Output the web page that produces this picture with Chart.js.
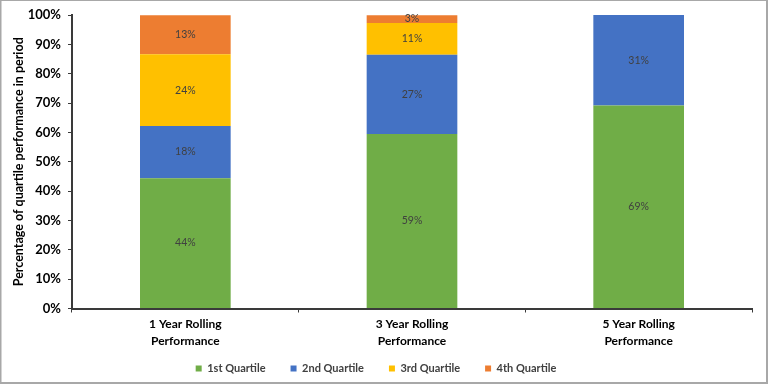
<!DOCTYPE html>
<html>
<head>
<meta charset="utf-8">
<script src="https://cdn.jsdelivr.net/npm/chart.js@4/dist/chart.umd.min.js"></script>
<style>
  html, body { margin: 0; padding: 0; background: #fff; }
  canvas { display: block; }
</style>
</head>
<body>
<canvas id="c" width="768" height="384"></canvas>
<script>
const categories = [
  ['1 Year Rolling', 'Performance'],
  ['3 Year Rolling', 'Performance'],
  ['5 Year Rolling', 'Performance']
];
const seriesNames = ['1st Quartile', '2nd Quartile', '3rd Quartile', '4th Quartile'];
const q1 = [44.4, 59.45, 69.2];
const q2 = [17.8, 27.0, 30.8];
const q3 = [24.4, 10.8, null];
const q4 = [13.3, 2.7, null];
const yTicks = [0, 10, 20, 30, 40, 50, 60, 70, 80, 90, 100];
const colors = ['#70AD47', '#4472C4', '#FFC000', '#ED7D31'];

const FONT = 'Lato, "Liberation Sans", sans-serif';

const bgFrame = {
  id: 'bgFrame',
  beforeDraw(chart) {
    const ctx = chart.ctx;
    ctx.save();
    ctx.fillStyle = '#fff';
    ctx.fillRect(0, 0, chart.width, chart.height);
    ctx.restore();
  },
  afterLayout(chart) {
    // let the two-line category labels extend below the axis box without being clipped
    const x = chart.scales.x;
    if (x) x.bottom += 24;
  },
  afterDraw(chart) {
    const ctx = chart.ctx;
    const w = chart.width, h = chart.height;
    ctx.save();
    ctx.fillStyle = '#a8a8a8';
    ctx.fillRect(0, 0, w, 1);
    ctx.fillRect(0, 0, 1.5, h);
    ctx.fillRect(w - 2, 0, 2, h);
    ctx.fillRect(0, h - 2, w, 2);
    ctx.restore();
  }
};

const valueLabels = {
  id: 'valueLabels',
  afterDatasetsDraw(chart) {
    const ctx = chart.ctx;
    ctx.save();
    ctx.font = '10.5px ' + FONT;
    ctx.fillStyle = '#404040';
    ctx.textAlign = 'center';
    ctx.textBaseline = 'middle';
    chart.data.datasets.forEach((ds, di) => {
      const meta = chart.getDatasetMeta(di);
      meta.data.forEach((el, i) => {
        const v = ds.data[i];
        if (v === null || v === undefined) return;
        const p = el.getProps(['x', 'y', 'base'], true);
        ctx.fillText(Math.round(v) + '%', p.x, (p.y + p.base) / 2);
      });
    });
    ctx.restore();
  }
};

const seriesData = [q1, q2, q3, q4];

new Chart(document.getElementById('c'), {
  type: 'bar',
  data: {
    labels: categories,
    datasets: seriesNames.map((n, i) => ({
      label: n,
      data: seriesData[i],
      backgroundColor: colors[i],
      borderWidth: 0,
      categoryPercentage: 1.0,
      barPercentage: 0.4
    }))
  },
  options: {
    responsive: false,
    animation: false,
    events: [],
    layout: { padding: { left: 0, right: 16, top: 15, bottom: 0 } },
    plugins: {
      legend: {
        position: 'bottom',
        labels: {
          boxWidth: 6,
          boxHeight: 6,
          padding: 25,
          color: '#404040',
          font: { family: FONT, size: 11, weight: 'bold' }
        }
      },
      tooltip: { enabled: false }
    },
    scales: {
      x: {
        stacked: true,
        grid: { display: true, drawOnChartArea: false, drawTicks: true, tickLength: 4, tickColor: '#3a3a3a', offset: true },
        border: { display: true, color: '#3a3a3a', width: 2 },
        ticks: {
          color: '#000',
          padding: 3,
          maxRotation: 0,
          font: { family: FONT, size: 12, weight: 'bold', lineHeight: 1.4 }
        },
        afterFit(scale) { scale.height = 29.5; }
      },
      y: {
        stacked: true,
        min: 0,
        max: 100,
        afterBuildTicks(scale) { scale.ticks = yTicks.map(v => ({ value: v })); },
        grid: { display: true, drawOnChartArea: false, drawTicks: true, tickLength: 4, tickColor: '#3a3a3a' },
        border: { display: true, color: '#3a3a3a', width: 2 },
        ticks: {
          color: '#000',
          padding: 7,
          font: { family: FONT, size: 13, weight: 'bold' },
          callback: v => v + '%'
        },
        title: {
          display: true,
          text: 'Percentage of quartile performance in period',
          color: '#000',
          padding: { top: 11, bottom: 0 },
          font: { family: FONT, size: 12.5, weight: 'bold' }
        },
        afterFit(scale) { scale.width = 72; }
      }
    }
  },
  plugins: [bgFrame, valueLabels]
});
</script>
</body>
</html>
